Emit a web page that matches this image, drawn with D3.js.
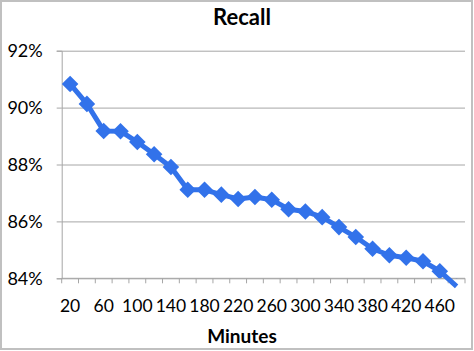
<!DOCTYPE html>
<html>
<head>
<meta charset="utf-8">
<script src="https://cdn.jsdelivr.net/npm/d3@7"></script>
<style>
  body { margin: 0; background: #fff; }
  text { font-family: Lato, "Open Sans", sans-serif; fill: #000; }
  .grid line { stroke: #a6a6a6; stroke-width: 1; }
  .grid path { display: none; }
</style>
</head>
<body>
<div id="chart"></div>
<script>
// data
var minutes = [20,40,60,80,100,120,140,160,180,200,220,240,260,280,300,320,340,360,380,400,420,440,460,480];
var recall = [90.83,90.13,89.18,89.17,88.79,88.36,87.91,87.11,87.11,86.94,86.79,86.86,86.76,86.43,86.35,86.15,85.80,85.45,85.04,84.81,84.72,84.60,84.25,83.72];
var yTicks = [84,86,88,90,92];
var xLabels = [20,60,100,140,180,220,260,300,340,380,420,460];

var w = 474, h = 351;
var plotLeft = 61.7, plotRight = 465, plotTop = 50.7, plotBottom = 278.3;

var svg = d3.select("#chart").append("svg")
    .attr("width", w)
    .attr("height", h);

// outer frame
svg.append("rect")
    .attr("x", 1).attr("y", 1)
    .attr("width", w - 3).attr("height", h - 3)
    .attr("fill", "none")
    .attr("stroke", "#c0c0c0")
    .attr("stroke-width", 2);

var xScale = d3.scaleBand()
    .domain(minutes)
    .range([plotLeft, plotRight]);

var yScale = d3.scaleLinear()
    .domain([84, 92])
    .range([plotBottom, plotTop]);

// horizontal gridlines
svg.append("g")
    .attr("class", "grid")
    .attr("transform", "translate(" + plotLeft + ",0)")
    .call(d3.axisLeft(yScale)
        .tickValues(yTicks)
        .tickSize(-(plotRight - plotLeft))
        .tickFormat(""));

// y axis
var yAxis = svg.append("g")
    .attr("transform", "translate(" + plotLeft + ",0)")
    .call(d3.axisLeft(yScale)
        .tickValues(yTicks)
        .tickSize(5)
        .tickPadding(14)
        .tickFormat(function(d) { return d + "%"; }));
yAxis.select(".domain").attr("stroke", "#a6a6a6");
yAxis.selectAll(".tick line").attr("stroke", "#a6a6a6");
yAxis.selectAll("text")
    .attr("font-family", null)
    .attr("font-size", null)
    .style("font-size", "18px")
    .attr("fill", "#000");

// x axis: tick marks at band boundaries
var xAxis = svg.append("g")
    .attr("transform", "translate(0," + plotBottom + ")");
xAxis.append("line")
    .attr("x1", plotLeft).attr("x2", plotRight)
    .attr("stroke", "#a6a6a6");
xAxis.selectAll(".xtick")
    .data(minutes.concat(["end"]))
    .enter()
    .append("line")
    .attr("class", "xtick")
    .attr("x1", function(d, i) { return plotLeft + i * xScale.bandwidth(); })
    .attr("x2", function(d, i) { return plotLeft + i * xScale.bandwidth(); })
    .attr("y1", 0).attr("y2", 5)
    .attr("stroke", "#a6a6a6");
xAxis.selectAll(".xlabel")
    .data(xLabels)
    .enter()
    .append("text")
    .attr("class", "xlabel")
    .attr("x", function(d) { return xScale(d) + xScale.bandwidth() / 2; })
    .attr("y", 34)
    .attr("text-anchor", "middle")
    .style("font-size", "17.5px")
    .text(function(d) { return d; });

// clip for markers
svg.append("clipPath")
    .attr("id", "plotclip")
    .append("rect")
    .attr("x", plotLeft).attr("y", plotTop - 10)
    .attr("width", plotRight - plotLeft + 10).attr("height", plotBottom - plotTop + 10);

var line = d3.line()
    .x(function(d, i) { return xScale(minutes[i]) + xScale.bandwidth() / 2; })
    .y(function(d) { return yScale(d); });

svg.append("path")
    .datum(recall)
    .attr("d", line)
    .attr("fill", "none")
    .attr("stroke", "#3272ea")
    .attr("stroke-width", 5)
    .attr("stroke-linejoin", "round");

var diamond = d3.symbol().type(d3.symbolDiamond2).size(175);
svg.append("g")
    .attr("clip-path", "url(#plotclip)")
    .selectAll(".dot")
    .data(recall)
    .enter()
    .append("path")
    .attr("class", "dot")
    .attr("d", diamond)
    .attr("transform", function(d, i) {
        return "translate(" + (xScale(minutes[i]) + xScale.bandwidth() / 2) + "," + yScale(d) + ")";
    })
    .attr("fill", "#3272ea");

// title
svg.append("text")
    .attr("x", 242)
    .attr("y", 25)
    .attr("text-anchor", "middle")
    .style("font-size", "22px")
    .style("font-weight", "bold")
    .text("Recall");

// x axis title
svg.append("text")
    .attr("x", 242)
    .attr("y", 343)
    .attr("text-anchor", "middle")
    .style("font-size", "19px")
    .style("font-weight", "bold")
    .text("Minutes");
</script>
</body>
</html>
